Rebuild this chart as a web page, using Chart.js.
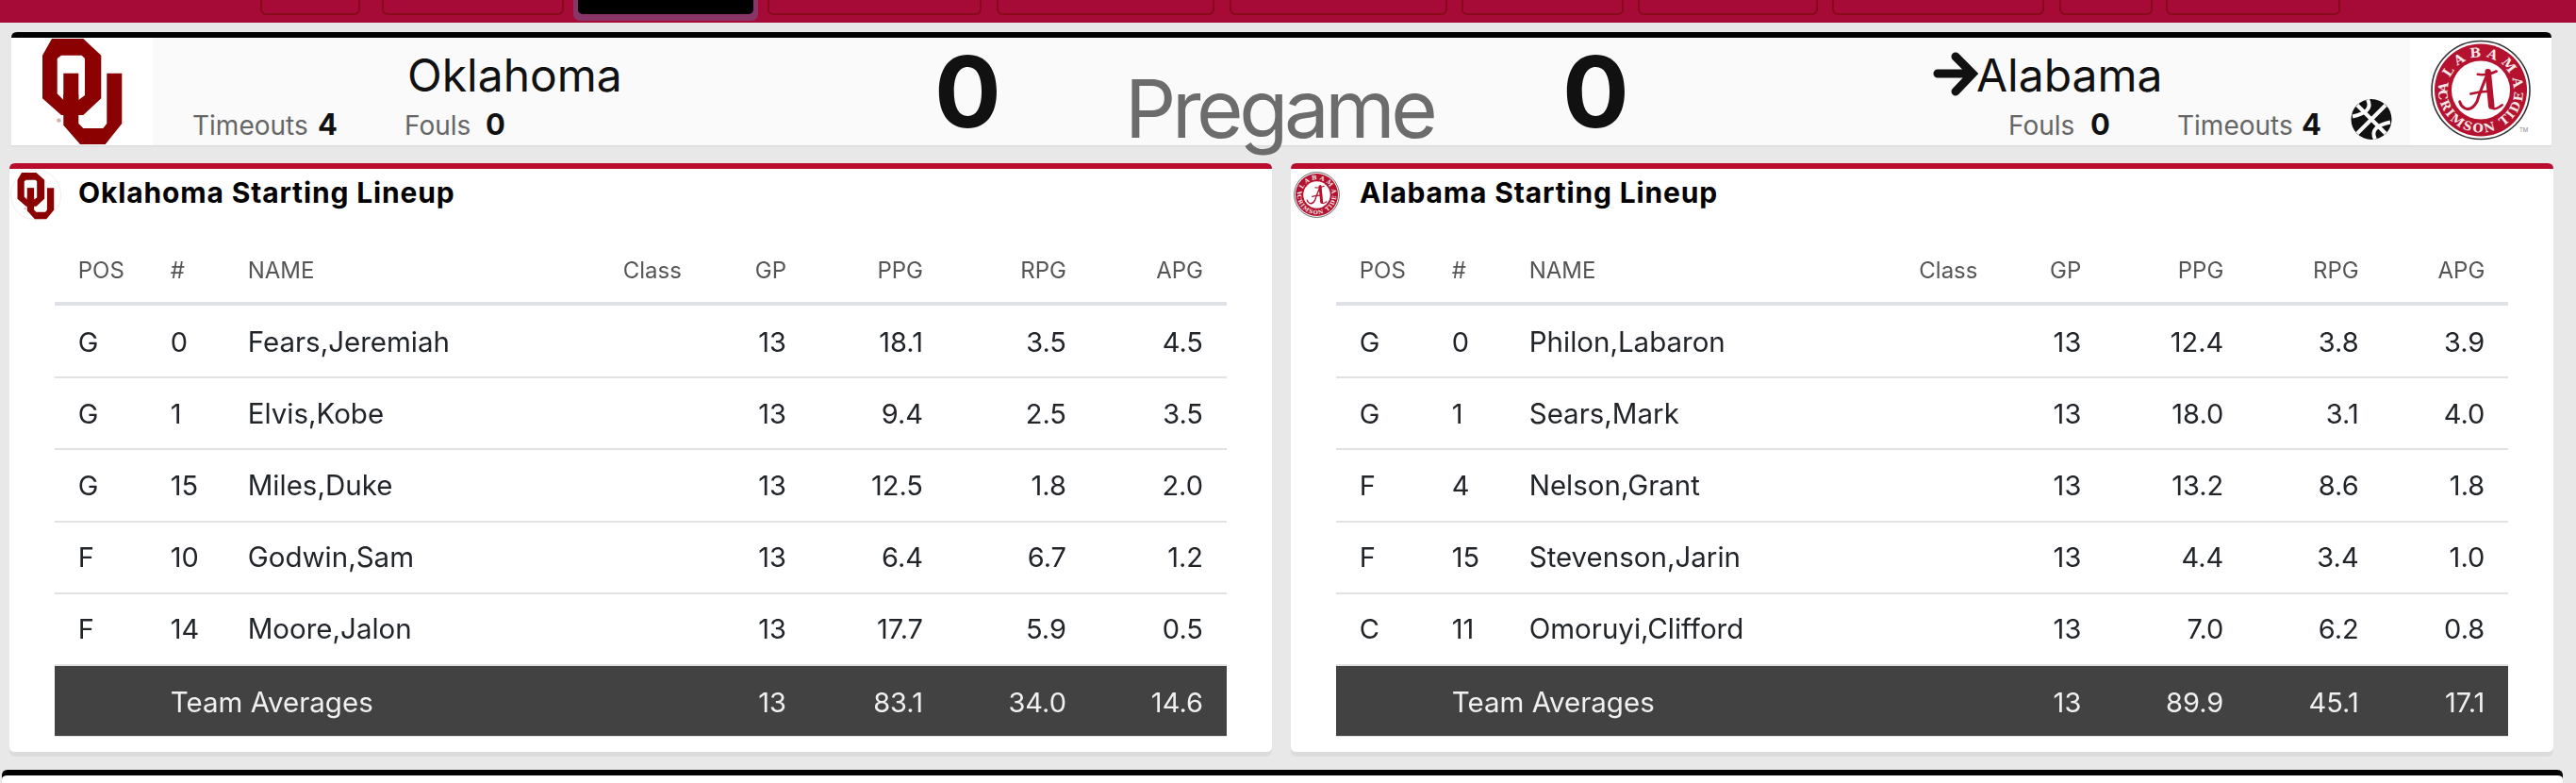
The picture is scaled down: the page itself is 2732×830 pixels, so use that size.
<!DOCTYPE html>
<html><head><meta charset="utf-8">
<script src="https://cdn.jsdelivr.net/npm/chart.js@4"></script>
<style>
html,body{margin:0;padding:0;width:2732px;height:830px;overflow:hidden;background:#e8e8e8}
#stage{position:relative;width:2732px;height:830px}
svg{position:absolute;left:0;top:0}
canvas{position:absolute}
.sans{font-family:Inter,"Noto Sans",sans-serif}
</style></head><body>
<div id="stage">
<svg id="chrome" width="2732" height="830" viewBox="0 0 2732 830" class="sans">
<defs>
<g id="ou" fill="#8b0000">
<path d="M67.3 100H83.3V131L88.3 136H109.3L113.3 131V77.7H129.3V131L111.7 153H85L67.3 132.7Z"/>
<path fill-rule="evenodd" d="M55 41H88.3L107.3 58.7V104.3L88.3 122H65L45 104.3V58.7ZM65 58.7L60.7 62V99.3L67.3 106H83.3L90 101V62L86.7 58.7Z"/>
<path d="M67.3 77.7H83.3V108H67.3Z"/>
<text x="59.5" y="130" font-size="6" fill="#a04040" font-family="'DejaVu Sans'">®</text>
</g>
<g id="bama">
<circle r="52" fill="#fff" stroke="#333" stroke-width="1.6"/>
<circle r="49" fill="#b5122f"/>
<circle r="31" fill="#fff"/>
<path id="arcTop" fill="none" d="M-35 0A35 35 0 0 1 35 0"/>
<path id="arcBot" fill="none" d="M-45 0A45 45 0 0 0 45 0"/>
<text font-family="'DejaVu Serif'" font-weight="700" font-size="14" fill="#f2e9e9" text-anchor="middle" letter-spacing="5"><textPath href="#arcTop" startOffset="50%">ALABAMA</textPath></text>
<text font-family="'DejaVu Serif'" font-weight="700" font-size="13" fill="#f2e9e9" text-anchor="middle" letter-spacing="2"><textPath href="#arcBot" startOffset="50%">CRIMSON TIDE</textPath></text>
<g fill="none" stroke="#b5122f" stroke-linecap="round">
<path d="M7.7 -19.3L11.3 17" stroke-width="6.5"/>
<path d="M11.3 17Q13 23 22.7 15.7" stroke-width="2.5"/>
<path d="M-3.3 -16.7Q6 -15 16.7 -20" stroke-width="2.5"/>
<path d="M7.7 -18.7Q-1 2 -4 12.3Q-10 23 -17.3 19Q-21 17 -22.3 12.3" stroke-width="3"/>
<path d="M-10.7 4Q0 1 11 1.3" stroke-width="2.5"/>
</g>
</g>
</defs>
<g id="tabs"></g>
<!-- scoreboard -->
<path d="M12 154V40Q12 34 18 34H2700Q2706 34 2706 40V154Z" fill="#000"/>
<rect x="12" y="40" width="2694" height="114" fill="#fafafa"/>
<rect x="12" y="154" width="2694" height="1.5" fill="#dcdcdc"/>
<rect x="12" y="40" width="150" height="114" fill="#fff"/>
<rect x="2556" y="40" width="150" height="114" fill="#fff"/>
<use href="#ou"/>
<use href="#bama" transform="translate(2631 95.5)"/>
<text x="2672" y="140" font-size="6" fill="#888">TM</text>
<text id="homeName" x="432" y="97" font-size="48" fill="#111">Oklahoma</text>
<text x="204" y="143" font-size="28" fill="#666">Timeouts</text>
<text x="337" y="143" font-size="31" font-weight="700" fill="#111">4</text>
<text x="429" y="143" font-size="28" fill="#666">Fouls</text>
<text x="515" y="143" font-size="31" font-weight="700" fill="#111">0</text>
<text x="991" y="135" font-size="105" font-weight="700" fill="#111">0</text>
<text id="period" x="1193" y="146" font-size="85" letter-spacing="-4.4" fill="#6c6c6c">Pregame</text>
<text x="1657" y="135" font-size="105" font-weight="700" fill="#111">0</text>
<path d="M2055 78H2090M2074 60L2092 78L2074 97" fill="none" stroke="#111" stroke-width="9" stroke-linecap="round" stroke-linejoin="miter"/>
<text x="2096" y="97" font-size="48" fill="#111">Alabama</text>
<text x="2130" y="143" font-size="28" fill="#666">Fouls</text>
<text x="2217" y="143" font-size="31" font-weight="700" fill="#111">0</text>
<text x="2309" y="143" font-size="28" fill="#666">Timeouts</text>
<text x="2441" y="143" font-size="31" font-weight="700" fill="#111">4</text>
<g transform="translate(2515 126.5)">
<circle r="21.5" fill="#111"/>
<g fill="none" stroke="#fafafa" stroke-width="4">
<path d="M-15 -15L15 15M15 -15L-15 15"/>
<path d="M-4 -21Q3 -8 -20 -3"/><path d="M4 21Q-3 8 20 3"/>
</g></g>
<!-- lineup cards -->
<g>
<rect x="10" y="174" width="1339" height="628" rx="6" fill="#dcdcdc"/>
<rect x="1369" y="174" width="1339" height="628" rx="6" fill="#dcdcdc"/>
<path d="M10 179Q10 173 16 173H1343Q1349 173 1349 179Z" fill="#ba0c2f"/>
<path d="M1369 179Q1369 173 1375 173H2702Q2708 173 2708 179Z" fill="#ba0c2f"/>
<path d="M10 179H1349V791Q1349 797 1343 797H16Q10 797 10 791Z" fill="#fff"/>
<path d="M1369 179H2708V791Q2708 797 2702 797H1375Q1369 797 1369 791Z" fill="#fff"/>
</g>
<ellipse cx="38" cy="206.5" rx="26.5" ry="26.5" fill="#fff" stroke="#eee" stroke-width="1"/>
<use href="#ou" transform="translate(18.5 183) scale(0.46 0.44) translate(-45 -41)"/>
<use href="#bama" transform="translate(1396.5 206.5) scale(0.46)"/>
<text x="83" y="215" font-size="30" font-weight="700" letter-spacing="0.85" fill="#000">Oklahoma Starting Lineup</text>
<text x="1442" y="215" font-size="30" font-weight="700" letter-spacing="0.85" fill="#000">Alabama Starting Lineup</text>
<!-- next section edge -->
<path d="M2 830V822Q2 816 8 816H2712Q2718 816 2718 822V830Z" fill="#000"/>
<path d="M2 830V826Q2 822 8 822H2712Q2718 822 2718 826V830Z" fill="#fff"/>
</svg>
<canvas id="homeChart" width="1243" height="533" style="left:58px;top:248px"></canvas>
<canvas id="awayChart" width="1243" height="533" style="left:1417px;top:248px"></canvas>
</div>
<script>
// ---- table data ----
const columnHeaders = ["POS", "#", "NAME", "Class", "GP", "PPG", "RPG", "APG"];
const homePos  = ["G", "G", "G", "F", "F"];
const homeNum  = ["0", "1", "15", "10", "14"];
const homeName = ["Fears,Jeremiah", "Elvis,Kobe", "Miles,Duke", "Godwin,Sam", "Moore,Jalon"];
const homeGP   = ["13", "13", "13", "13", "13"];
const homePPG  = ["18.1", "9.4", "12.5", "6.4", "17.7"];
const homeRPG  = ["3.5", "2.5", "1.8", "6.7", "5.9"];
const homeAPG  = ["4.5", "3.5", "2.0", "1.2", "0.5"];
const homeTeam = ["13", "83.1", "34.0", "14.6"];
const awayPos  = ["G", "G", "F", "F", "C"];
const awayNum  = ["0", "1", "4", "15", "11"];
const awayName = ["Philon,Labaron", "Sears,Mark", "Nelson,Grant", "Stevenson,Jarin", "Omoruyi,Clifford"];
const awayGP   = ["13", "13", "13", "13", "13"];
const awayPPG  = ["12.4", "18.0", "13.2", "4.4", "7.0"];
const awayRPG  = ["3.8", "3.1", "8.6", "3.4", "6.2"];
const awayAPG  = ["3.9", "4.0", "1.8", "1.0", "0.8"];
const awayTeam = ["13", "89.9", "45.1", "17.1"];
const teamLabel = "Team Averages";

// ---- top navigation tabs (decoration) ----
const tabEdges = [[277,381],[406,597],[815,1040],[1058,1287],[1305,1534],[1551,1721],[1738,1927],[1944,2167],[2185,2282],[2298,2481]];
(function(){
  const NS = "http://www.w3.org/2000/svg", g = document.getElementById("tabs");
  function rect(x,y,w,h,rx,fill,stroke){const r=document.createElementNS(NS,"rect");
    r.setAttribute("x",x);r.setAttribute("y",y);r.setAttribute("width",w);r.setAttribute("height",h);r.setAttribute("rx",rx);
    r.setAttribute("fill",fill);if(stroke){r.setAttribute("stroke",stroke);r.setAttribute("stroke-width",1.5);}g.appendChild(r);}
  rect(0,0,2732,24,0,"#a50b36");
  tabEdges.forEach(e=>rect(e[0],-20,e[1]-e[0],35,5,"#a50b36","#7f0a12"));
  rect(608,-20,196,42,7,"#8a3568");
  rect(613,-20,186,35,5,"#000");
})();

// ---- column anchors in table units (the two tables size their columns differently) ----
const colAlign = ["left","left","left","left","right","right","right","right"];
const homeAnchors = [24.7,122.7,204.7,602.7,776,921,1073,1218];
const awayAnchors = [24.7,122.7,204.7,618.3,790.3,941.3,1084.7,1218.3];
const tableWidth = 1243;
const SANS = 'Inter, "Noto Sans", sans-serif';

const cellText = {
  id: "cellText",
  afterDatasetsDraw(chart, args, opts) {
    const {ctx, chartArea, scales:{x, y}} = chart;
    const at = opts.anchors;
    ctx.save();
    ctx.textBaseline = "alphabetic";
    // header rule and labels
    ctx.fillStyle = "#dee2e6";
    ctx.fillRect(chartArea.left, chartArea.top - 4, chartArea.width, 4);
    ctx.font = "24px " + SANS;
    ctx.fillStyle = "#555";
    columnHeaders.forEach((h, c) => {
      ctx.textAlign = colAlign[c];
      ctx.fillText(h, x.getPixelForValue(at[c]), chartArea.top - 29);
    });
    // body rows
    opts.columns.forEach(col => {
      ctx.font = (col.at === 2 ? "29.5px " : "29px ") + SANS;
      col.values.forEach((v, r) => {
        ctx.textAlign = colAlign[col.at];
        ctx.fillStyle = "#212529";
        ctx.fillText(v, x.getPixelForValue(at[col.at]), y.getPixelForValue(r) + 10.5);
      });
    });
    // team row
    const ty = y.getPixelForValue(5) + 12;
    ctx.fillStyle = "#f0f0f0";
    ctx.textAlign = "left";
    ctx.font = "29.5px " + SANS;
    ctx.fillText(teamLabel, x.getPixelForValue(at[1]), ty);
    ctx.textAlign = "right";
    ctx.font = "29px " + SANS;
    opts.team.forEach((v, i) => ctx.fillText(v, x.getPixelForValue(at[4 + i]), ty));
    ctx.restore();
  }
};

function lineup(id, anchors, names, pos, num, gp, ppg, rpg, apg, team) {
  return new Chart(document.getElementById(id), {
    type: "bar",
    data: {
      labels: names.concat([teamLabel]),
      datasets: [{
        data: names.map(() => null).concat([tableWidth]),
        backgroundColor: "#424242",
        barPercentage: 1,
        categoryPercentage: 1
      }]
    },
    options: {
      indexAxis: "y",
      responsive: false,
      animation: false,
      devicePixelRatio: 1,
      layout: {padding: {top: 76}},
      scales: {
        x: {type: "linear", min: 0, max: tableWidth, display: false},
        y: {
          type: "category",
          offset: true,
          ticks: {display: false},
          border: {display: false},
          grid: {
            offset: true,
            drawTicks: false,
            lineWidth: 2,
            z: 1,
            color: c => (c.index === 0 || c.index >= 6) ? "rgba(0,0,0,0)" : "#e2e2e2"
          }
        }
      },
      plugins: {
        legend: {display: false},
        tooltip: {enabled: false},
        title: {display: false},
        cellText: {
          anchors: anchors,
          columns: [
            {at: 0, values: pos}, {at: 1, values: num}, {at: 2, values: names},
            {at: 4, values: gp}, {at: 5, values: ppg}, {at: 6, values: rpg}, {at: 7, values: apg}
          ],
          team: team
        }
      }
    },
    plugins: [cellText]
  });
}
lineup("homeChart", homeAnchors, homeName, homePos, homeNum, homeGP, homePPG, homeRPG, homeAPG, homeTeam);
lineup("awayChart", awayAnchors, awayName, awayPos, awayNum, awayGP, awayPPG, awayRPG, awayAPG, awayTeam);
</script>
</body></html>
